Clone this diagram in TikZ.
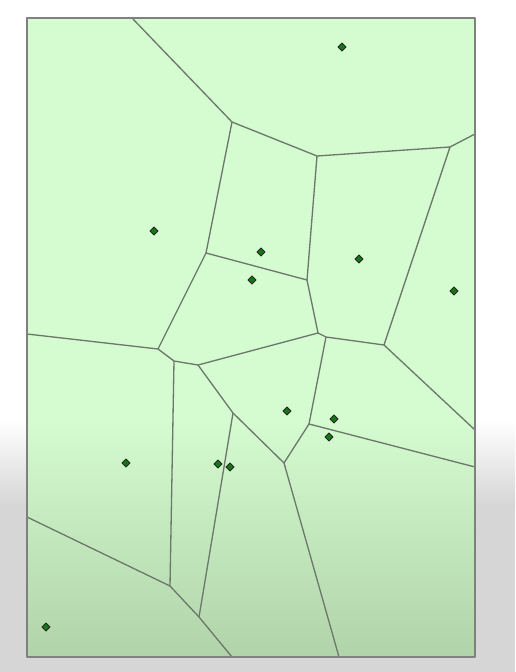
\documentclass[tikz,border=0pt]{standalone}
\usetikzlibrary{shapes.geometric}
\definecolor{cellgreen}{HTML}{D5FBD0}
\definecolor{cellgreenlow}{HTML}{B1D3A9}
\definecolor{edgegray}{HTML}{6C786C}
\definecolor{sitegreen}{HTML}{137813}

\begin{document}
\begin{tikzpicture}[x=0.02cm, y=-0.02cm, line join=round,
  edge/.style={draw=edgegray, line width=0.75pt},
  site/.style={shape=diamond, draw=black!85, fill=sitegreen, line width=0.5pt, inner sep=0pt, minimum size=0.17cm}]
\useasboundingbox (0,0) rectangle (515,672);
% background and map area
\fill[white] (0,0) rectangle (515,420);
\shade[top color=white, bottom color=black!16] (0,420) rectangle (515,505);
\fill[black!16] (0,505) rectangle (515,672);
\fill[cellgreen] (27,18) rectangle (475,420);
\shade[top color=cellgreen, bottom color=cellgreenlow] (27,420) rectangle (475,657);
% voronoi vertices
\coordinate (A) at (132,18);
\coordinate (C) at (232,122);
\coordinate (D) at (317,156);
\coordinate (E) at (450,147);
\coordinate (F) at (475,134);
\coordinate (G) at (206,253);
\coordinate (H) at (307,280);
\coordinate (I) at (318,333);
\coordinate (J) at (326,337);
\coordinate (K) at (384,345);
\coordinate (L) at (475,430);
\coordinate (M) at (158,349);
\coordinate (N) at (27,334);
\coordinate (O) at (174,361);
\coordinate (P) at (198,365);
\coordinate (Q) at (170,586);
\coordinate (R) at (233,413);
\coordinate (S) at (284,463);
\coordinate (T) at (199,617);
\coordinate (U) at (232,657);
\coordinate (V) at (27,517);
\coordinate (W) at (309,424);
\coordinate (X) at (475,467);
\coordinate (Y) at (339,657);
% cell borders
\draw[edge] (A) -- (C) -- (D) -- (E) -- (F);
\draw[edge] (C) -- (G) -- (H) -- (I) -- (J) -- (K) -- (L);
\draw[edge] (D) -- (H);
\draw[edge] (E) -- (K);
\draw[edge] (N) -- (M) -- (O) -- (P) -- (I);
\draw[edge] (G) -- (M);
\draw[edge] (O) -- (Q) -- (T) -- (U);
\draw[edge] (V) -- (Q);
\draw[edge] (P) -- (R) -- (S) -- (Y);
\draw[edge] (R) -- (T);
\draw[edge] (J) -- (W) -- (S);
\draw[edge] (W) -- (X);
% sites
\foreach \px/\py [count=\i] in {342/47, 154/231, 261/252, 252/280, 359/259, 454/291,
  287/411, 334/419, 329/437, 126/463, 218/464, 230/467, 46/627}
  \node[site] (s\i) at (\px,\py) {};
% frame
\draw[gray, line width=0.9pt] (27,18) rectangle (475,657);
\end{tikzpicture}
\end{document}
